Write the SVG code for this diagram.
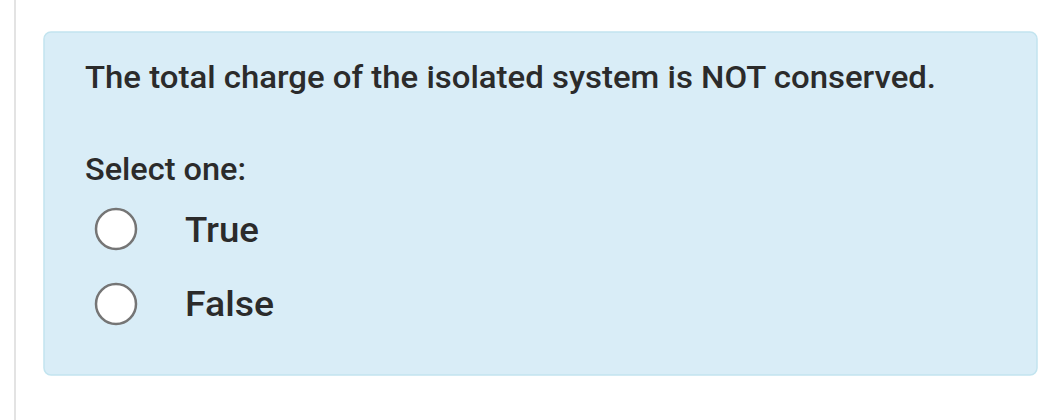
<svg xmlns="http://www.w3.org/2000/svg" width="1064" height="420" viewBox="0 0 1064 420">
<style>
text{font-family:Roboto,"Liberation Sans",sans-serif;fill:#2b2b2b;font-weight:500}
.r{fill:#fff;stroke:#757575;stroke-width:2.5}
</style>
<rect width="1064" height="420" fill="#fff"/>
<rect x="14" y="0" width="2" height="420" fill="#e3e3e3"/>
<g id="panel"><rect x="44" y="32" width="993" height="343" rx="7" fill="#d9edf7" stroke="#c2e4ef" stroke-width="1.5"/></g>
<g id="question"><text x="85" y="88" font-size="32" textLength="851" lengthAdjust="spacingAndGlyphs">The total charge of the isolated system is NOT conserved.</text></g>
<g id="prompt"><text x="85" y="180" font-size="31" textLength="161" lengthAdjust="spacingAndGlyphs">Select one:</text></g>
<g id="opt-true"><circle class="r" cx="116" cy="229" r="20"/><text x="185" y="242" font-size="35" textLength="74" lengthAdjust="spacingAndGlyphs">True</text></g>
<g id="opt-false"><circle class="r" cx="116" cy="304" r="20"/><text x="185" y="316" font-size="35" textLength="89" lengthAdjust="spacingAndGlyphs">False</text></g>
</svg>
